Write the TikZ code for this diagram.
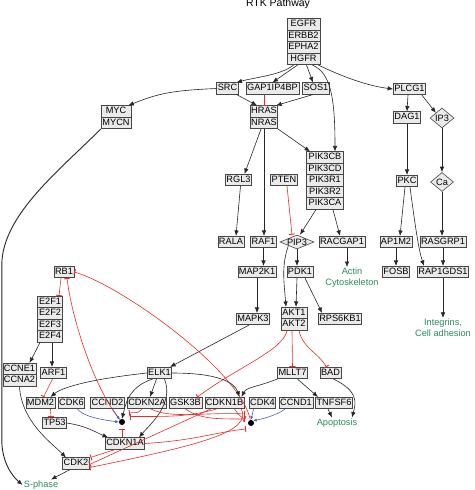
\documentclass[tikz,border=0pt]{standalone}
\usepackage{fontspec}
\setmainfont{Liberation Sans}
\usetikzlibrary{arrows.meta,shapes.geometric}
\definecolor{inhred}{RGB}{228,45,45}
\definecolor{cpxblue}{RGB}{70,95,190}
\definecolor{txtgreen}{RGB}{40,140,90}
\definecolor{boxfill}{RGB}{234,234,234}
\definecolor{boxline}{RGB}{70,70,70}
\begin{document}
\begin{tikzpicture}[x=1pt,y=-1pt,
  gene/.style={draw=boxline, fill=boxfill, line width=0.6pt, inner xsep=1pt, inner ysep=0pt,
    text height=6.6pt, text depth=1.8pt, minimum height=11.5pt, font=\fontsize{9.2}{10}\selectfont},
  mol/.style={diamond, draw=boxline, fill=boxfill, line width=0.6pt, inner sep=0pt, aspect=1,
    font=\fontsize{9.2}{10}\selectfont},
  lbl/.style={inner sep=1pt, font=\fontsize{9.2}{11}\selectfont},
  dotn/.style={circle, fill=black, inner sep=0pt, minimum size=6pt},
  act/.style={-{Latex[length=5.5pt,width=4.5pt]}, line width=0.6pt, draw=black!85},
  inh/.style={-{Bar[width=6pt,line width=0.9pt]}, line width=0.6pt, draw=inhred},
  cpx/.style={-{Latex[length=3.5pt,width=3pt]}, line width=0.6pt, draw=cpxblue}]
\useasboundingbox (0,0) rectangle (474,490);
\clip (0,0) rectangle (474,490);
\fill[white] (0,0) rectangle (474,490);

\node[inner sep=0pt, font=\fontsize{10.5}{12}\selectfont, anchor=base] (title) at (278,6.8) {RTK Pathway};
% receptor stack
\node[gene, minimum width=33pt] (egfr) at (303.5,24.5) {EGFR};
\node[gene, minimum width=33pt] (erbb2) at (303.5,36) {ERBB2};
\node[gene, minimum width=33pt] (epha2) at (303.5,47.5) {EPHA2};
\node[gene, minimum width=33pt] (hgfr) at (303.5,59) {HGFR};

\node[gene] (src) at (227.5,88.5) {SRC};
\node[gene] (gap) at (272.5,88.5) {GAP1IP4BP};
\node[gene] (sos) at (316,88.5) {SOS1};
\node[gene] (plcg) at (409.5,89) {PLCG1};
\node[gene, minimum width=30pt] (myc) at (116,111.5) {MYC};
\node[gene, minimum width=30pt] (mycn) at (116,123) {MYCN};
\node[gene, minimum width=27pt] (hras) at (264,111.5) {HRAS};
\node[gene, minimum width=27pt] (nras) at (264,123) {NRAS};
\node[gene] (dag) at (407,117.5) {DAG1};
\node[mol, minimum width=24pt, minimum height=20pt] (ip3) at (442,118) {\makebox[0pt]{IP3}};

\node[gene, minimum width=37pt] (pik3cb) at (325,157.5) {PIK3CB};
\node[gene, minimum width=37pt] (pik3cd) at (325,169) {PIK3CD};
\node[gene, minimum width=37pt] (pik3r1) at (325,180.5) {PIK3R1};
\node[gene, minimum width=37pt] (pik3r2) at (325,192) {PIK3R2};
\node[gene, minimum width=37pt] (pik3ca) at (325,203.5) {PIK3CA};

\node[gene] (rgl3) at (238.5,180) {RGL3};
\node[gene] (pten) at (284,180) {PTEN};
\node[gene] (pkc) at (407,181) {PKC};
\node[mol, minimum width=23pt, minimum height=19pt] (ca) at (442,182) {\makebox[0pt]{Ca}};

\node[gene] (rala) at (231,242) {RALA};
\node[gene] (raf1) at (263.5,242) {RAF1};
\node[mol, minimum width=34pt, minimum height=14pt] (pip3) at (297,242) {\makebox[0pt]{PIP3}};
\node[gene] (racgap) at (342,242) {RACGAP1};
\node[gene] (ap1m2) at (396,242) {AP1M2};
\node[gene] (rasgrp) at (443,242) {RASGRP1};

\node[gene] (rb1) at (64,272) {RB1};
\node[gene] (map2k1) at (257,272) {MAP2K1};
\node[gene] (pdk1) at (300,272) {PDK1};
\node[lbl, text=txtgreen, align=center] (actin) at (352,278) {Actin\\Cytoskeleton};
\node[gene] (fosb) at (396,272) {FOSB};
\node[gene] (rap1gds) at (443,272) {RAP1GDS1};

\node[gene, minimum width=25pt] (e2f1) at (50,302) {E2F1};
\node[gene, minimum width=25pt] (e2f2) at (50,313.5) {E2F2};
\node[gene, minimum width=25pt] (e2f3) at (50,325) {E2F3};
\node[gene, minimum width=25pt] (e2f4) at (50,336.5) {E2F4};

\node[gene] (mapk3) at (253,319) {MAPK3};
\node[gene, minimum width=26pt] (akt1) at (294,313) {AKT1};
\node[gene, minimum width=26pt] (akt2) at (294,324.5) {AKT2};
\node[gene] (rps) at (340,319) {RPS6KB1};
\node[lbl, text=txtgreen, align=center] (integ) at (443,328) {Integrins,\\Cell adhesion};

\node[gene, minimum width=33pt] (ccne1) at (19.5,369) {CCNE1};
\node[gene, minimum width=33pt] (ccna2) at (19.5,380.5) {CCNA2};
\node[gene] (arf1) at (53.5,373) {ARF1};
\node[gene] (elk1) at (159.5,373) {ELK1};
\node[gene] (mllt7) at (292.5,373) {MLLT7};
\node[gene] (bad) at (330.5,373) {BAD};

\node[gene] (mdm2) at (40.5,403) {MDM2};
\node[gene] (cdk6) at (71.5,403) {CDK6};
\node[gene] (ccnd2) at (107.5,403) {CCND2};
\node[gene] (cdkn2a) at (147,403) {CDKN2A};
\node[gene] (gsk3b) at (185.5,403) {GSK3B};
\node[gene] (cdkn1b) at (224.5,403) {CDKN1B};
\node[gene] (cdk4) at (262.5,403) {CDK4};
\node[gene] (ccnd1) at (296,403) {CCND1};
\node[gene] (tnfsf6) at (334,403) {TNFSF6};

\node[gene] (tp53) at (54.5,423) {TP53};
\node[dotn] (dot1) at (122,422) {};
\node[dotn] (dot2) at (251,423) {};
\node[lbl, text=txtgreen] (apop) at (337,423) {Apoptosis};
\node[gene] (cdkn1a) at (125,443.5) {CDKN1A};
\node[gene] (cdk2) at (76,463.5) {CDK2};
\node[lbl, text=txtgreen] (sphase) at (41,485) {S-phase};

\coordinate (d1a) at (129,413);
\coordinate (d1b) at (130,416.5);
\coordinate (d2a) at (245,414);
\coordinate (d2b) at (245,419);
\coordinate (d2c) at (246,429);

% upper part
\draw[act] ([xshift=-10]hgfr.south) .. controls +(-12,10) and +(18,-5) .. ([xshift=-2]src.north east);
\draw[act] ([xshift=-6]hgfr.south) -- (gap.north);
\draw[act] ([xshift=3]hgfr.south) -- ([xshift=-3]sos.north);
\draw[act] ([xshift=9]hgfr.south) .. controls +(18,8) and +(0,-55) .. ([xshift=10]pik3cb.north);
\draw[act] ([xshift=-2]hgfr.south east) .. controls +(25,12) and +(-25,-3) .. (plcg.west);
\draw[act] (src.west) .. controls +(-45,2) and +(30,-12) .. ([xshift=-3]myc.north east);
\draw[act] ([xshift=-2]src.south east) -- ([xshift=-7]hras.north);
\draw[inh] ([xshift=-8.5]gap.south) -- (hras.north);
\draw[act] ([xshift=-3]sos.south) -- ([xshift=-2]hras.north east);
\draw[act] ([xshift=-3]nras.south) -- ([xshift=6]rgl3.north);
\draw[act] (nras.south) -- (nras.south |- raf1.north);
\draw[act] (nras.south east) -- ([xshift=-15]pik3cb.north);
\draw[inh] ([xshift=3]pten.south) -- ([xshift=-5]pip3.north);
\draw[act] ([xshift=-9]pik3ca.south) -- ([xshift=3]pip3.north);
\draw[act] ([xshift=8]pik3ca.south) -- ([xshift=-2]racgap.north);
\draw[act] ([xshift=2]rgl3.south) -- ([xshift=5]rala.north);
\draw[act] ([xshift=-1.5]plcg.south) -- (dag.north);
\draw[act] ([xshift=-4]plcg.south east) -- (ip3.north west);
\draw[act] (dag.south) -- (pkc.north);
\draw[act] (ip3.south) -- (ca.north);
\draw[act] (ca.south) -- ([xshift=-1]rasgrp.north);
\draw[act] ([xshift=-2]pkc.south) -- ([xshift=4]ap1m2.north);
\draw[act] ([xshift=3]pkc.south) .. controls +(6,45) and +(-5,-15) .. ([xshift=-19]rap1gds.north);
\draw[act] (ap1m2.south) -- (fosb.north);
\draw[act] (rasgrp.south) -- (rap1gds.north);
\draw[act] ([xshift=5]racgap.south) -- ([xshift=5]racgap.south |- actin.north);
\draw[act] (rap1gds.south) -- (integ.north);
\draw[act] (raf1.south) -- (raf1.south |- map2k1.north);
\draw[act] (pip3.south) -- (pip3.south |- pdk1.north);
\draw[act] (pip3.south west) .. controls +(-7,20) and +(-2,-25) .. ([xshift=-8]akt1.north);
\draw[act] ([xshift=-3]pdk1.south) -- ([xshift=2]akt1.north);
\draw[act] ([xshift=5]pdk1.south) -- ([xshift=-18]rps.north);
\draw[act] (map2k1.south) -- (map2k1.south |- mapk3.north);
\draw[act] ([xshift=-4]mapk3.south) -- ([xshift=-2]elk1.north east);
\draw[inh] ([xshift=-2]akt2.south) -- (mllt7.north);
\draw[inh] ([xshift=5]akt2.south) .. controls +(4,18) and +(-8,-14) .. ([xshift=-4]bad.north);
\draw[inh] ([xshift=-7]akt2.south) .. controls +(-4,20) and +(40,-30) .. ([xshift=12]gsk3b.north);

% cell cycle
\draw[inh] (dot2) .. controls (240,370) and (120,285) .. (rb1.east);
\draw[inh] (dot1) .. controls (95,390) and (72,320) .. ([xshift=3]rb1.south);
\draw[inh] ([xshift=-3]rb1.south) -- ([xshift=9]e2f1.north);
\draw[act] ([xshift=-10]e2f4.south) -- ([xshift=10]ccne1.north);
\draw[act] ([xshift=2]e2f4.south) -- ([xshift=-1.5]arf1.north);
\draw[inh] ([xshift=-1]arf1.south) -- ([xshift=3]mdm2.north);
\draw[inh] ([xshift=10]mdm2.south) -- ([xshift=-3.5]tp53.north);
\draw[act] (tp53.east) .. controls +(20,3) and +(-12,-5) .. ([xshift=3]cdkn1a.north west);
\draw[act] (elk1.west) .. controls +(-55,6) and +(12,-10) .. ([xshift=10]mdm2.north);
\draw[act] ([xshift=-3]elk1.south) -- ([xshift=3]cdkn2a.north);
\draw[act] ([xshift=-7]elk1.south) .. controls +(-25,8) and +(3,-12) .. (dot1.north);
\draw[act] ([xshift=5]elk1.south) .. controls +(10,25) and +(10,-12) .. ([xshift=14]cdkn1a.north);
\draw[act] (elk1.east) .. controls +(45,0) and +(-5,-15) .. ([xshift=15]cdkn1b.north);
\draw[act] (mllt7.south west) .. controls +(-20,8) and +(5,-10) .. ([xshift=17]cdkn1b.north);
\draw[act] ([xshift=5]mllt7.south) -- ([xshift=-16]tnfsf6.north);
\draw[act] ([xshift=-6]tnfsf6.south) -- ([xshift=-5]apop.north);
\draw[act] ([xshift=3]bad.south) .. controls +(25,12) and +(4,-15) .. ([xshift=15]apop.north);

\draw[cpx] ([xshift=6]cdk6.south) .. controls +(6,8) and +(-15,-2) .. (dot1.west);
\draw[cpx] ([xshift=5]ccnd2.south) -- (dot1.north west);
\draw[cpx] ([xshift=-9]cdk4.south) -- (dot2.north);
\draw[cpx] ([xshift=-11]ccnd1.south) .. controls +(-8,6) and +(10,-2) .. (dot2.north east);

\draw[inh] ([xshift=-3]cdkn1a.north) -- ([yshift=-4pt]dot1.south);
\draw[inh] ([xshift=-5]cdkn2a.south) .. controls +(-5,5) and +(8,-1) .. (d1a);
\draw[inh] ([xshift=4]cdkn2a.south) .. controls +(20,10) and +(-40,-2) .. (d2a);
\draw[inh] ([xshift=-8]cdkn1b.south) .. controls +(-30,8) and +(40,0) .. (d1b);
\draw[inh] (gsk3b.south) .. controls +(15,10) and +(-30,0) .. (d2b);
\draw[inh] ([xshift=10]cdkn1b.south) .. controls +(4,6) and +(-4,-2) .. (d2b);
\draw[inh] (cdkn1a.east) .. controls +(50,-3) and +(-30,3) .. (d2c);
\draw[inh] ([xshift=-10]cdkn1a.south) -- ([xshift=1]cdk2.north east);
\draw[inh] ([xshift=-14]cdkn1b.south) -- ([yshift=-1pt]cdk2.east);
\draw[inh] ([xshift=17]cdkn1b.south) .. controls (252,432) and (200,445) .. ([yshift=-4pt]cdk2.east);

\draw[act] ([xshift=-6]cdk2.south) -- ([xshift=10]sphase.north);
\draw[act] (ccna2.south) .. controls +(2,35) and +(-15,-15) .. ([xshift=-10]cdk2.north);
\draw[act, line width=0.9pt] (mycn.south west) .. controls (60,170) and (2,215) .. (1.8,265) -- (1.8,440) .. controls (1.8,462) and (12,476) .. (sphase.west);
\end{tikzpicture}
\end{document}
